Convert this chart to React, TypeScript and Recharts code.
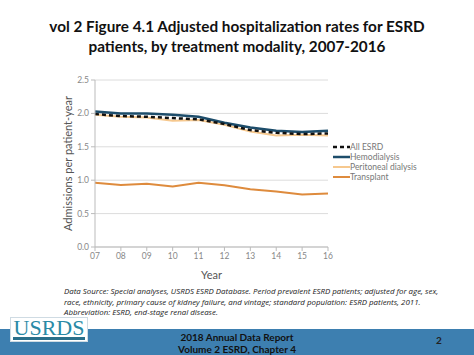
import { LineChart, Line, XAxis, YAxis, CartesianGrid, Legend, Label } from 'recharts'

const years = ['07', '08', '09', '10', '11', '12', '13', '14', '15', '16']
const allEsrd = [1.99, 1.96, 1.95, 1.93, 1.91, 1.84, 1.75, 1.71, 1.69, 1.7]
const hemodialysis = [2.03, 2.0, 2.0, 1.98, 1.95, 1.86, 1.79, 1.74, 1.72, 1.74]
const peritoneal = [1.98, 1.95, 1.94, 1.89, 1.9, 1.83, 1.73, 1.67, 1.68, 1.67]
const transplant = [0.96, 0.93, 0.945, 0.905, 0.96, 0.925, 0.865, 0.83, 0.785, 0.8]
const yTicks = [0, 0.5, 1, 1.5, 2, 2.5]

const series = [
  { key: 'all', name: 'All ESRD', color: '#111111', dash: '4 3', width: 2.5 },
  { key: 'hd', name: 'Hemodialysis', color: '#1d4d6b', dash: undefined, width: 2.5 },
  { key: 'pd', name: 'Peritoneal dialysis', color: '#f6c88e', dash: undefined, width: 2 },
  { key: 'tx', name: 'Transplant', color: '#de8b3d', dash: undefined, width: 2 },
]

const data = years.map((y, i) => ({
  year: y,
  all: allEsrd[i],
  hd: hemodialysis[i],
  pd: peritoneal[i],
  tx: transplant[i],
}))

function LegendList() {
  return (
    <div style={{ fontFamily: 'Lato, sans-serif', fontSize: 8.5, color: '#777', lineHeight: '10px' }}>
      {series.map((s) => (
        <div key={s.key} style={{ display: 'flex', alignItems: 'center' }}>
          <svg width={20} height={8}>
            <line x1={3} x2={20} y1={4} y2={4} stroke={s.color} strokeWidth={s.width} strokeDasharray={s.dash} />
          </svg>
          <span>{s.name}</span>
        </div>
      ))}
    </div>
  )
}

export default function App() {
  return (
    <div style={{ position: 'fixed', left: 0, top: 0, width: 474, height: 355, background: '#fff', overflow: 'hidden' }}>
      <div
        style={{
          position: 'absolute', left: 0, top: 16, width: 474, textAlign: 'center',
          fontFamily: 'Lato, "Open Sans", sans-serif', fontWeight: 700, fontSize: 15.3, lineHeight: '20px', color: '#111',
        }}
      >
        vol 2 Figure 4.1 Adjusted hospitalization rates for ESRD
        <br />
        patients, by treatment modality, 2007-2016
      </div>

      <div style={{ position: 'absolute', left: 0, top: 0 }}>
        <LineChart width={474} height={290} data={data} margin={{ top: 80, right: 146, bottom: 23, left: 63 }}>
          <CartesianGrid vertical={false} stroke="#dcdcdc" />
          <XAxis
            dataKey="year"
            interval={0}
            stroke="#bbb"
            tick={{ fontSize: 8.5, fill: '#888', fontFamily: 'Lato, sans-serif' }}
            tickSize={4}
            height={20}
          >
            <Label value="Year" position="insideBottom" offset={-12} style={{ fontSize: 11, fill: '#555', fontFamily: 'Lato, sans-serif' }} />
          </XAxis>
          <YAxis
            domain={[0, 2.5]}
            ticks={yTicks}
            stroke="#bbb"
            tickFormatter={(v: number) => v.toFixed(1)}
            tick={{ fontSize: 8.5, fill: '#888', fontFamily: 'Lato, sans-serif' }}
            tickSize={4}
            width={32}
          >
            <Label
              value="Admissions per patient-year"
              angle={-90}
              position="insideLeft"
              offset={5}
              style={{ textAnchor: 'middle', fontSize: 11, fill: '#555', fontFamily: 'Lato, sans-serif' }}
            />
          </YAxis>
          <Legend
            layout="horizontal"
            verticalAlign="middle"
            content={() => <LegendList />}
            wrapperStyle={{ left: 330, top: 142, width: 120 }}
          />
          <Line dataKey="tx" name="Transplant" stroke="#de8b3d" strokeWidth={2} dot={false} isAnimationActive={false} />
          <Line dataKey="pd" name="Peritoneal dialysis" stroke="#f6c88e" strokeWidth={2} dot={false} isAnimationActive={false} />
          <Line dataKey="hd" name="Hemodialysis" stroke="#1d4d6b" strokeWidth={2.5} dot={false} isAnimationActive={false} />
          <Line dataKey="all" name="All ESRD" stroke="#111" strokeWidth={2.5} strokeDasharray="4 3" dot={false} isAnimationActive={false} />
        </LineChart>
      </div>

      <div
        style={{
          position: 'absolute', left: 64, top: 286, width: 410,
          fontFamily: '"Open Sans", sans-serif', fontStyle: 'italic', fontSize: 7.9, lineHeight: '10.5px', color: '#222',
        }}
      >
        Data Source: Special analyses, USRDS ESRD Database. Period prevalent ESRD patients; adjusted for age, sex,
        <br />
        race, ethnicity, primary cause of kidney failure, and vintage; standard population: ESRD patients, 2011.
        <br />
        Abbreviation: ESRD, end-stage renal disease.
      </div>

      <div style={{ position: 'absolute', left: 0, top: 329, width: 474, height: 26, background: '#3d7fb0' }} />
      <div
        style={{
          position: 'absolute', left: 10, top: 317, width: 78, height: 25, background: '#fff',
          border: '1px solid #cfdbe3', boxSizing: 'border-box',
        }}
      >
        <div style={{ fontFamily: '"Liberation Serif", serif', fontSize: 22, lineHeight: '19px', color: '#2a8aa6', textAlign: 'center' }}>
          USRDS
        </div>
        <div style={{ background: '#2a6f8a', margin: '0 2px', height: 3 }} />
      </div>
      <div
        style={{
          position: 'absolute', left: 0, top: 331, width: 474, textAlign: 'center',
          fontFamily: 'Lato, sans-serif', fontWeight: 700, fontSize: 10, lineHeight: '12px', color: '#111',
        }}
      >
        2018 Annual Data Report
        <br />
        Volume 2 ESRD, Chapter 4
      </div>
      <div style={{ position: 'absolute', left: 436, top: 334, fontFamily: 'Lato, sans-serif', fontWeight: 700, fontSize: 10, color: '#222' }}>
        2
      </div>
    </div>
  )
}
